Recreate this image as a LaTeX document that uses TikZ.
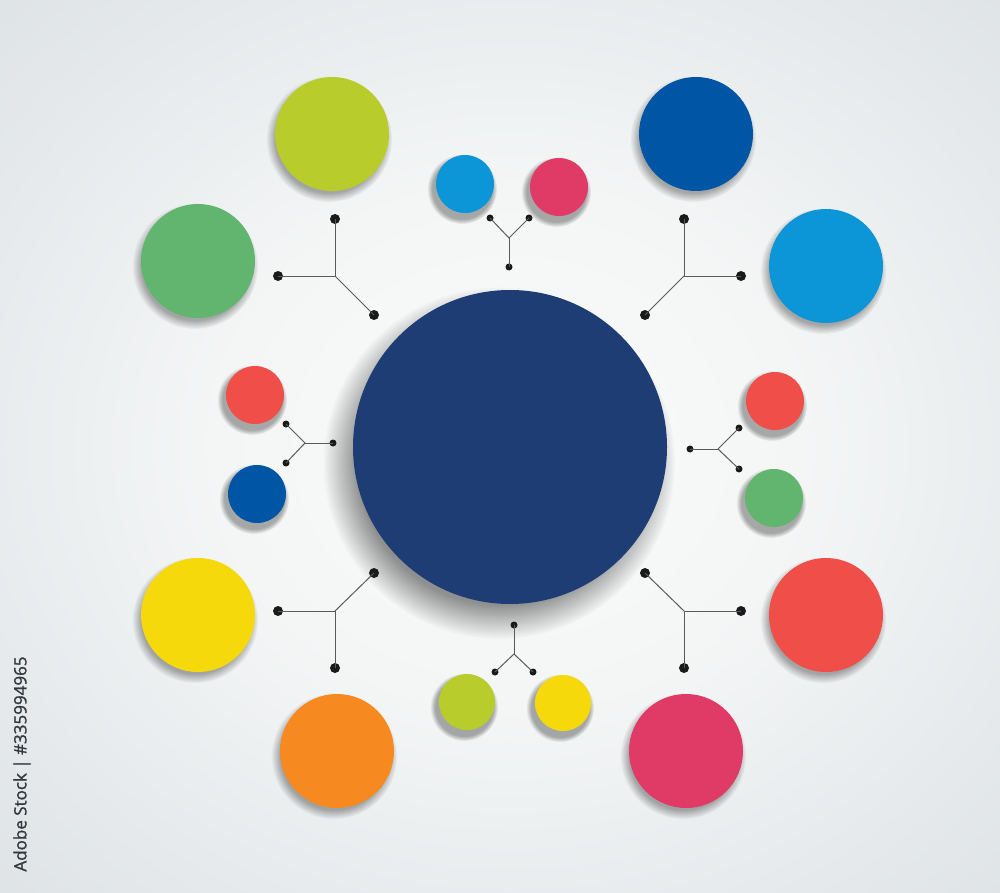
\documentclass[tikz,border=0pt]{standalone}
\usepackage{fontspec}
\newfontfamily\wmfont[FakeBold=1.2]{Open Sans}
\usetikzlibrary{fadings}
\definecolor{bgA}{HTML}{FAFBFB}
\definecolor{bgA2}{HTML}{F4F6F6}
\definecolor{bgB}{HTML}{E5E9EB}
\definecolor{bgC}{HTML}{DADFE2}
\definecolor{bgD}{HTML}{D2D9DC}
\definecolor{cNavy}{HTML}{1D3D74}
\definecolor{cLime}{HTML}{B8CC2B}
\definecolor{cGreen}{HTML}{62B56F}
\definecolor{cSky}{HTML}{0C96D7}
\definecolor{cPink}{HTML}{E03A66}
\definecolor{cBlue}{HTML}{0055A5}
\definecolor{cRed}{HTML}{EF4F48}
\definecolor{cYellow}{HTML}{F6D90A}
\definecolor{cOrange}{HTML}{F6891F}
\definecolor{cLine}{HTML}{5A5A5A}
\definecolor{cDot}{HTML}{1A1A1A}
\definecolor{cText}{HTML}{33383D}
\pgfdeclareradialshading{bgshade}{\pgfpoint{0bp}{0bp}}{color(0bp)=(bgA); color(14bp)=(bgA2); color(28bp)=(bgB); color(40bp)=(bgC); color(50bp)=(bgD)}
\newcommand\placedisc[5]{% name, x, y, radius, colour
  \fill[black, opacity=0.32, path fading=circle with fuzzy edge 15 percent] (#2-3,#3+5) circle ({#4+6});
  \node[disc=#5, minimum size={2*#4}] (#1) at (#2,#3) {};
}
\tikzset{
  disc/.style={circle, inner sep=0pt, draw=none, fill=#1},
  dotL/.style={circle, inner sep=0pt, minimum size=10pt, fill=cDot},
  dotS/.style={circle, inner sep=0pt, minimum size=7pt, fill=cDot},
  junc/.style={inner sep=0pt, minimum size=0pt},
  link/.style={draw=cLine, line width=1pt},
}
\begin{document}
\begin{tikzpicture}[x=1pt, y=-1pt]
\useasboundingbox (0,0) rectangle (1000,893);
\shade[shading=bgshade] (-10,-10) rectangle (1030,903);

% centre circle with a soft shadow
\fill[black, opacity=0.42, path fading=circle with fuzzy edge 20 percent] (499,463) circle (176);
\node[disc=cNavy, minimum size=314pt] (center) at (510,447) {};

% large circles
\placedisc{tl}{332}{134}{57}{cLime}
\placedisc{l1}{198}{261}{57}{cGreen}
\placedisc{tr}{696}{134}{57}{cBlue}
\placedisc{r1}{826}{266}{57}{cSky}
\placedisc{l2}{198}{615}{57}{cYellow}
\placedisc{bl}{337}{751}{57}{cOrange}
\placedisc{br}{686}{751}{57}{cPink}
\placedisc{r2}{826}{615}{57}{cRed}

% small circles
\placedisc{ts1}{465}{184}{29}{cSky}
\placedisc{ts2}{559}{187}{29}{cPink}
\placedisc{ls1}{255}{395}{29}{cRed}
\placedisc{ls2}{257}{494}{29}{cBlue}
\placedisc{rs1}{775}{401}{29}{cRed}
\placedisc{rs2}{774}{498}{29}{cGreen}
\placedisc{bs1}{467}{702}{28}{cLime}
\placedisc{bs2}{563}{703}{28}{cYellow}

% connector: top-left
\node[junc] (j1) at (335,276) {};
\node[dotL] (j1a) at (335,219) {};
\node[dotL] (j1b) at (278,276) {};
\node[dotL] (j1c) at (374,315) {};
\draw[link] (j1a.center) -- (j1.center) -- (j1b.center);
\draw[link] (j1.center) -- (j1c.center);

% connector: top centre
\node[junc] (j2) at (509,238) {};
\node[dotS] (j2a) at (490,218) {};
\node[dotS] (j2b) at (529,218) {};
\node[dotS] (j2c) at (509,267) {};
\draw[link] (j2a.center) -- (j2.center) -- (j2b.center);
\draw[link] (j2.center) -- (j2c.center);

% connector: top-right
\node[junc] (j3) at (684,276) {};
\node[dotL] (j3a) at (684,219) {};
\node[dotL] (j3b) at (741,276) {};
\node[dotL] (j3c) at (645,315) {};
\draw[link] (j3a.center) -- (j3.center) -- (j3b.center);
\draw[link] (j3.center) -- (j3c.center);

% connector: left small
\node[junc] (j4) at (305,443) {};
\node[dotS] (j4a) at (286,424) {};
\node[dotS] (j4b) at (286,463) {};
\node[dotS] (j4c) at (333,443) {};
\draw[link] (j4a.center) -- (j4.center) -- (j4b.center);
\draw[link] (j4.center) -- (j4c.center);

% connector: right small
\node[junc] (j5) at (718,449) {};
\node[dotS] (j5a) at (690,449) {};
\node[dotS] (j5b) at (739,428) {};
\node[dotS] (j5c) at (739,469) {};
\draw[link] (j5b.center) -- (j5.center) -- (j5c.center);
\draw[link] (j5.center) -- (j5a.center);

% connector: bottom-left
\node[junc] (j6) at (335,611) {};
\node[dotL] (j6a) at (278,611) {};
\node[dotL] (j6b) at (374,573) {};
\node[dotL] (j6c) at (335,668) {};
\draw[link] (j6a.center) -- (j6.center) -- (j6c.center);
\draw[link] (j6.center) -- (j6b.center);

% connector: bottom centre
\node[junc] (j7) at (514,654) {};
\node[dotS] (j7a) at (514,625) {};
\node[dotS] (j7b) at (495,672) {};
\node[dotS] (j7c) at (533,672) {};
\draw[link] (j7b.center) -- (j7.center) -- (j7c.center);
\draw[link] (j7.center) -- (j7a.center);

% connector: bottom-right
\node[junc] (j8) at (684,611) {};
\node[dotL] (j8a) at (645,573) {};
\node[dotL] (j8b) at (741,611) {};
\node[dotL] (j8c) at (684,668) {};
\draw[link] (j8b.center) -- (j8.center) -- (j8c.center);
\draw[link] (j8.center) -- (j8a.center);

% side label
\node[rotate=90, text=cText, inner sep=0pt, font=\wmfont\fontsize{17}{19}\selectfont] (tag) at (22,764) {Adobe Stock | \#335994965};
\end{tikzpicture}
\end{document}
